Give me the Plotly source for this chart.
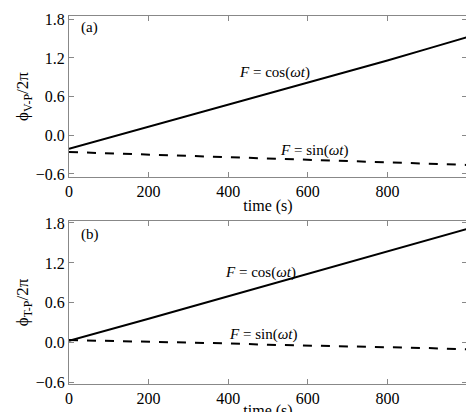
import plotly.graph_objects as go
from plotly.subplots import make_subplots

time_s = [0, 100, 200, 300, 400, 500, 600, 700, 800, 900, 1000]
a_cos = [-0.21, -0.04, 0.13, 0.31, 0.47, 0.65, 0.82, 0.99, 1.16, 1.34, 1.52]
a_sin = [-0.26, -0.28, -0.30, -0.32, -0.34, -0.36, -0.38, -0.40, -0.42, -0.44, -0.46]
b_cos = [0.03, 0.19, 0.36, 0.53, 0.70, 0.87, 1.04, 1.20, 1.37, 1.54, 1.71]
b_sin = [0.04, 0.03, 0.01, 0.00, -0.01, -0.03, -0.04, -0.05, -0.07, -0.08, -0.10]

y_ticks = [-0.6, 0.0, 0.6, 1.2, 1.8]
x_ticks = [0, 200, 400, 600, 800, 1000]

FONT = "'Liberation Serif', 'DejaVu Serif', serif"
fig = make_subplots(rows=2, cols=1, vertical_spacing=0.12)

for row, (c, s) in enumerate([(a_cos, a_sin), (b_cos, b_sin)], start=1):
    fig.add_trace(go.Scatter(x=time_s, y=c, mode="lines",
                             line=dict(color="black", width=2)), row=row, col=1)
    fig.add_trace(go.Scatter(x=time_s, y=s, mode="lines",
                             line=dict(color="black", width=2, dash="dash")), row=row, col=1)

axis = dict(showline=True, mirror="ticks", linecolor="#888", linewidth=1,
            ticks="inside", ticklen=5, tickcolor="#888", showgrid=False,
            zeroline=False, tickfont=dict(family=FONT, size=16, color="black"))

fig.update_xaxes(axis, range=[0, 1000], tickvals=x_ticks,
                 title=dict(text="time (s)", standoff=0, font=dict(family=FONT, size=16, color="black")))
fig.update_yaxes(axis, tickvals=y_ticks, tickformat=".1f")
fig.update_yaxes(range=[-0.65, 1.85], row=1, col=1,
                 title=dict(text="ϕ<sub>V-P</sub>/2π", standoff=2, font=dict(family=FONT, size=17, color="black")))
fig.update_yaxes(range=[-0.62, 1.83], row=2, col=1,
                 title=dict(text="ϕ<sub>T-P</sub>/2π", standoff=2, font=dict(family=FONT, size=17, color="black")))
fig.update_layout(
    yaxis=dict(domain=[0.562, 1.0]),
    yaxis2=dict(domain=[0.0, 0.443]),
)

ann_font = dict(family=FONT, size=15, color="black")
notes = [
    ("x", "y", 52, 1.67, "(a)"),
    ("x", "y", 517, 0.98, "<i>F</i> = cos(<i>ωt</i>)"),
    ("x", "y", 615, -0.24, "<i>F</i> = sin(<i>ωt</i>)"),
    ("x2", "y2", 52, 1.62, "(b)"),
    ("x2", "y2", 480, 1.06, "<i>F</i> = cos(<i>ωt</i>)"),
    ("x2", "y2", 487, 0.12, "<i>F</i> = sin(<i>ωt</i>)"),
]
for xr, yr, x, y, t in notes:
    fig.add_annotation(xref=xr, yref=yr, x=x, y=y, text=t, showarrow=False, font=ann_font)

fig.update_layout(width=474, height=412, showlegend=False,
                  font=dict(family=FONT, color="black"),
                  margin=dict(l=61, r=15, t=2, b=33),
                  plot_bgcolor="white", paper_bgcolor="white")
fig.write_html("out.html")
